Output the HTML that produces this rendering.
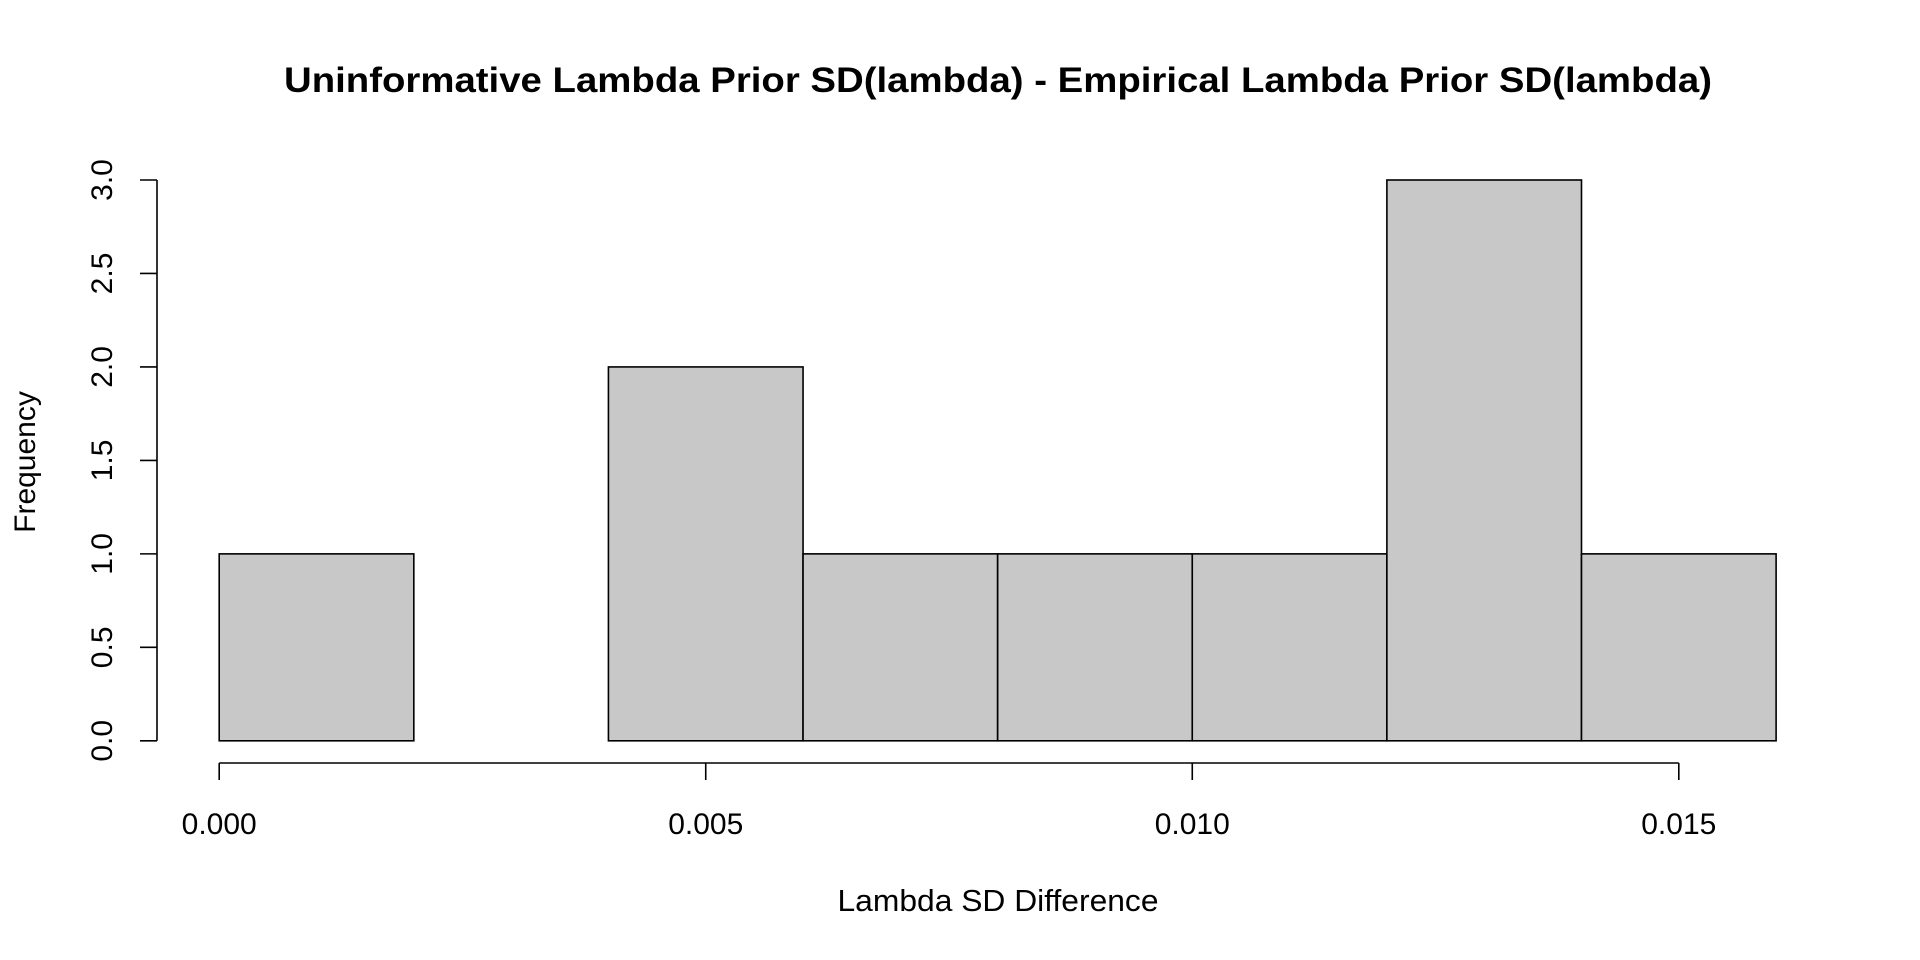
<!DOCTYPE html>
<html><head><meta charset="utf-8"><style>body{margin:0;background:#fff}svg{display:block}text{font-family:"Liberation Sans",Arial,sans-serif;fill:#000}</style></head>
<body>
<svg id="chart" width="1920" height="960">
<text x="998" y="92" font-size="35" font-weight="bold" text-anchor="middle" textLength="1428" lengthAdjust="spacingAndGlyphs">Uninformative Lambda Prior SD(lambda) - Empirical Lambda Prior SD(lambda)</text>
<text x="998" y="911" font-size="31" text-anchor="middle" textLength="321" lengthAdjust="spacingAndGlyphs">Lambda SD Difference</text>
<text transform="translate(35,462) rotate(-90)" font-size="30" text-anchor="middle">Frequency</text>
<g id="bars"></g><g id="axes"></g>
</svg>
<script>
const binEdges=[0,0.002,0.004,0.006,0.008,0.010,0.012,0.014,0.016];
const counts=[1,0,2,1,1,1,3,1];
const xTicks=[0,0.005,0.010,0.015];
const xTickLabels=["0.000","0.005","0.010","0.015"];
const yTicks=[0,0.5,1,1.5,2,2.5,3];
const yTickLabels=["0.0","0.5","1.0","1.5","2.0","2.5","3.0"];
const NS="http://www.w3.org/2000/svg";
const X=v=>219.2+(v/0.015)*(1678.8-219.2);
const Y=v=>740.8-(v/3)*(740.8-180);
function mk(t,a,p){const e=document.createElementNS(NS,t);for(const k in a)e.setAttribute(k,a[k]);p.appendChild(e);return e;}
const bars=document.getElementById('bars'),axes=document.getElementById('axes');
counts.forEach((c,i)=>{
  const r=mk('rect',{x:X(binEdges[i]),y:Y(c),width:X(binEdges[i+1])-X(binEdges[i]),height:Y(0)-Y(c),fill:'#c8c8c8',stroke:'#000','stroke-width':1.6},bars);
  
  
});
const xa=mk('line',{x1:X(xTicks[0]),x2:X(xTicks[xTicks.length-1]),y1:763,y2:763,stroke:'#000','stroke-width':1.6},axes);


xTicks.forEach((v,i)=>{
  mk('line',{x1:X(v),x2:X(v),y1:763,y2:780,stroke:'#000','stroke-width':1.6},axes);
  const t=mk('text',{x:X(v),y:834,'font-size':30,'text-anchor':'middle'},axes);
  t.textContent=xTickLabels[i];
  
  
});
const ya=mk('line',{x1:157,x2:157,y1:Y(yTicks[0]),y2:Y(yTicks[yTicks.length-1]),stroke:'#000','stroke-width':1.6},axes);


yTicks.forEach((v,i)=>{
  mk('line',{x1:140,x2:157,y1:Y(v),y2:Y(v),stroke:'#000','stroke-width':1.6},axes);
  const t=mk('text',{transform:`translate(112,${Y(v)}) rotate(-90)`,'font-size':30,'text-anchor':'middle'},axes);
  t.textContent=yTickLabels[i];
  
  
});
</script>
</body></html>
